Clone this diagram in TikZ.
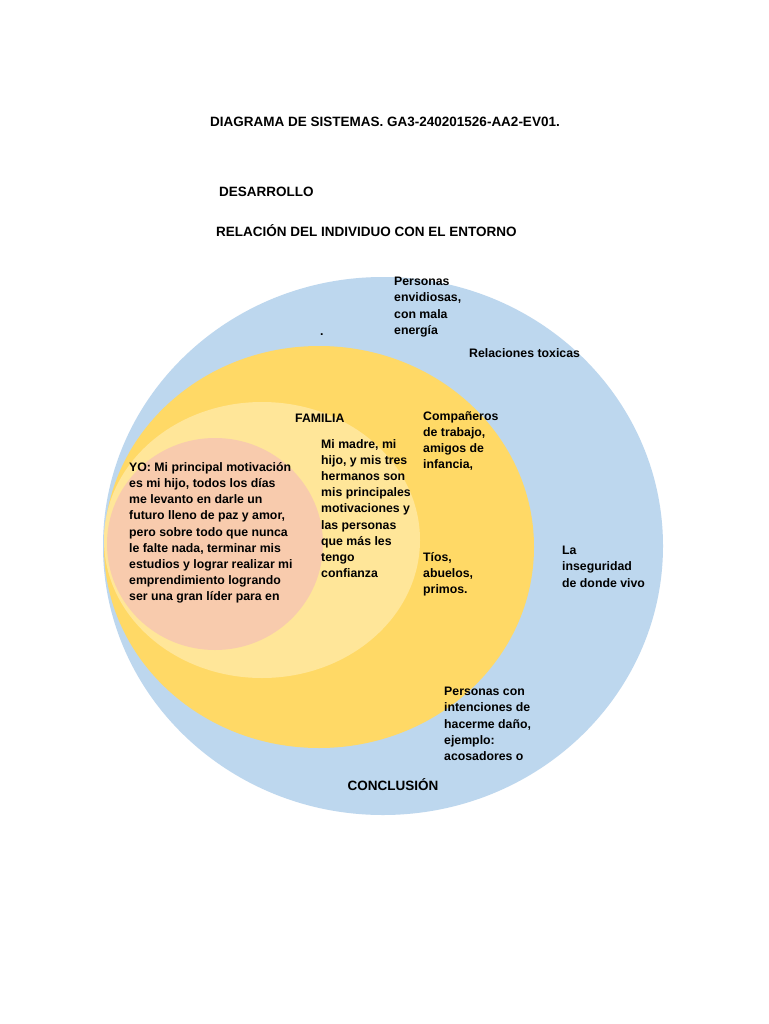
\documentclass[tikz,border=0pt]{standalone}
\usepackage{fontspec}
\setmainfont{Liberation Sans}
\begin{document}
\begin{tikzpicture}[x=1pt,y=-1pt,
  txt/.style={font=\bfseries\fontsize{12.3}{16.2}\selectfont,align=left,anchor=north west,inner sep=0pt},
  head/.style={font=\bfseries\fontsize{13.5}{16}\selectfont,inner sep=0pt}]
\useasboundingbox (0,0) rectangle (768,1024);
\fill[white] (0,0) rectangle (768,1024);
\definecolor{cblue}{HTML}{BDD7EE}
\definecolor{cyel}{HTML}{FFD966}
\definecolor{clyel}{HTML}{FFE699}
\definecolor{csal}{HTML}{F8CBAD}
\fill[cblue] (383,546) ellipse (280 and 269);
\begin{scope}
\clip (383,546) ellipse (280 and 269);
\fill[cyel] (319,547) ellipse (215 and 201);
\fill[clyel] (262,540) ellipse (158 and 138);
\fill[csal] (215,544) ellipse (108 and 106);
\end{scope}
\node[head] (t) at (385,122) {DIAGRAMA DE SISTEMAS. GA3-240201526-AA2-EV01.};
\node[head,anchor=west] (d) at (219,192) {DESARROLLO};
\node[head,anchor=west] (r) at (216,231) {RELACIÓN DEL INDIVIDUO CON EL ENTORNO};
\node[txt] (p1) at (394,277) {Personas\\envidiosas,\\con mala\\energía};
\node[txt] (dot) at (320,333) {.};
\node[txt] (rt) at (469,348) {Relaciones toxicas};
\node[txt] (fa) at (295,414) {FAMILIA};
\node[txt] (co) at (423,411) {Compañeros\\de trabajo,\\amigos de\\infancia,};
\node[txt] (mm) at (321,439) {Mi madre, mi\\hijo, y mis tres\\hermanos son\\mis principales\\motivaciones y\\las personas\\que más les\\tengo\\confianza};
\node[txt] (yo) at (129,462) {YO: Mi principal motivación\\es mi hijo, todos los días\\me levanto en darle un\\futuro lleno de paz y amor,\\pero sobre todo que nunca\\le falte nada, terminar mis\\estudios y lograr realizar mi\\emprendimiento logrando\\ser una gran líder para en};
\node[txt] (ti) at (423,552) {Tíos,\\abuelos,\\primos.};
\node[txt] (la) at (562,546) {La\\inseguridad\\de donde vivo};
\node[txt] (pc) at (444,687) {Personas con\\intenciones de\\hacerme daño,\\ejemplo:\\acosadores o};
\node[head] (cc) at (393,785) {CONCLUSIÓN};
\end{tikzpicture}
\end{document}
